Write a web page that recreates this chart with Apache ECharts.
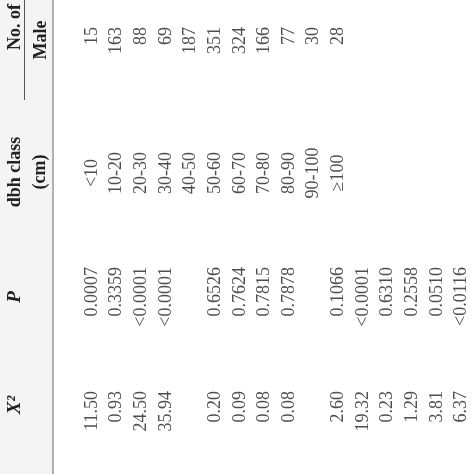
<!DOCTYPE html>
<html>
<head>
<meta charset="utf-8">
<script src="https://cdn.jsdelivr.net/npm/echarts@6/dist/echarts.min.js"></script>
<style>html,body{margin:0;padding:0;background:#fff}#c{width:474px;height:474px}</style>
</head>
<body>
<div id="c"></div>
<script>
// table rows (the picture is rotated 90 degrees)
const rows = ['r0','r1','r2','r3','r4','r5','r6','r7','r8','r9','r10','r11','r12','r13','r14','r15'];
const dbhClass = ['<10','10-20','20-30','30-40','40-50','50-60','60-70','70-80','80-90','90-100','\u2265100'];
const male = ['15','163','88','69','187','351','324','166','77','30','28'];
const pValues = ['0.0007','0.3359','<0.0001','<0.0001','','0.6526','0.7624','0.7815','0.7878','','0.1066','<0.0001','0.6310','0.2558','0.0510','<0.0116'];
const chiSq = ['11.50','0.93','24.50','35.94','','0.20','0.09','0.08','0.08','','2.60','19.32','0.23','1.29','3.81','6.37'];

const font = '"Liberation Serif", "DejaVu Serif", serif';

function column(values, pos, align) {
    return {
        type: 'scatter',
        symbolSize: 0,
        silent: true,
        data: values.map((v, i) => ({ value: [i, pos], text: v })),
        label: {
            show: true,
            position: 'inside',
            rotate: 90,
            align: align,
            verticalAlign: 'middle',
            fontFamily: font,
            fontSize: 18,
            color: '#222',
            formatter: p => p.data.text
        }
    };
}

function header(text, x, y, align, style) {
    return {
        type: 'text',
        x: x, y: y,
        rotation: Math.PI / 2,
        style: Object.assign({
            text: text,
            align: align,
            verticalAlign: 'middle',
            font: 'bold 18px ' + font,
            fill: '#222'
        }, style || {})
    };
}

const chart = echarts.init(document.getElementById('c'));
chart.setOption({
    animation: false,
    grid: { left: 79.5, top: 0, width: 400, height: 474 },
    xAxis: { type: 'category', data: rows, show: false },
    yAxis: { type: 'value', min: 0, max: 474, inverse: true, show: false },
    graphic: [
        { type: 'rect', shape: { x: 0, y: 0, width: 53, height: 474 }, style: { fill: '#f4f4f4' } },
        { type: 'line', shape: { x1: 53, y1: 0, x2: 53, y2: 474 }, style: { stroke: '#b0b0b0', lineWidth: 2 } },
        { type: 'line', shape: { x1: 24.5, y1: 0, x2: 24.5, y2: 100 }, style: { stroke: '#555', lineWidth: 1 } },
        header('No. of', 15, 50, 'left'),
        header('Male', 41, 40, 'center'),
        header('dbh class', 15, 172, 'center'),
        header('(cm)', 40, 172, 'center'),
        header('P', 15, 297, 'center', { font: 'italic bold 19px ' + font }),
        header('X\u00b2', 15, 405, 'center', { font: 'italic bold 19px ' + font })
    ],
    series: [
        column(male, 27, 'right'),
        column(dbhClass, 173, 'center'),
        column(pValues, 267, 'right'),
        column(chiSq, 391, 'right')
    ]
});
</script>
</body>
</html>
